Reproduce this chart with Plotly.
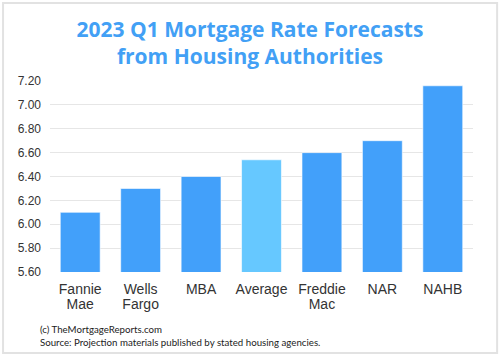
import plotly.graph_objects as go

categories = ["Fannie", "Wells", "MBA", "Average", "Freddie", "NAR", "NAHB"]
categories_line2 = ["Mae", "Fargo", "", "", "Mac", "", ""]
rates = [6.10, 6.30, 6.40, 6.54, 6.60, 6.70, 7.16]
bar_colors = ["#42A0FA", "#42A0FA", "#42A0FA", "#66C8FF", "#42A0FA", "#42A0FA", "#42A0FA"]
y_ticks = [5.6, 5.8, 6.0, 6.2, 6.4, 6.6, 6.8, 7.0, 7.2]

fig = go.Figure()
fig.add_trace(go.Bar(
    x=categories, y=rates,
    marker=dict(color=bar_colors, line=dict(color="rgba(255,255,255,0.6)", width=1)),
))
fig.add_trace(go.Bar(
    x=categories, y=rates, xaxis="x2", opacity=0, hoverinfo="skip",
))

tickfont = dict(family="Liberation Sans, Arial", size=14, color="#333333")

fig.update_layout(
    width=500, height=356,
    margin=dict(l=50, r=27, t=81, b=84),
    paper_bgcolor="white", plot_bgcolor="white",
    bargap=0.34, barmode="overlay",
    showlegend=False,
    title=dict(
        text="<b>2023 Q1 Mortgage Rate Forecasts<br>from Housing Authorities</b>",
        x=0.5, xanchor="center", y=0.897, yanchor="middle",
        font=dict(family="Open Sans", size=21, color="#42A0F5"),
    ),
    font=dict(family="Liberation Sans, Arial", size=12, color="#333333"),
    xaxis=dict(showgrid=False, showline=False, ticks="", ticklabelstandoff=7,
               tickfont=tickfont),
    xaxis2=dict(overlaying="x", matches="x", anchor="y", side="bottom",
                tickmode="array", tickvals=categories, ticktext=categories_line2,
                showgrid=False, showline=False, ticks="", ticklabelstandoff=22,
                tickfont=tickfont),
    yaxis=dict(range=[5.6, 7.2], tickvals=y_ticks, tickformat=".2f",
               showgrid=True, gridcolor="#E6E6E6", gridwidth=1, zeroline=False,
               ticklabelstandoff=8, tickfont=dict(size=12, color="#333333")),
    shapes=[dict(type="rect", xref="paper", yref="paper",
                 x0=-0.111, x1=1.057, y0=-0.424, y1=1.408,
                 line=dict(color="#E2E2E2", width=2))],
    annotations=[
        dict(text="(c) TheMortgageReports.com<br>Source: Projection materials published by stated housing agencies.",
             xref="paper", yref="paper", x=-0.029, y=-0.257, xanchor="left", yanchor="top",
             align="left", showarrow=False,
             font=dict(family="Lato", size=9.7, color="#222222")),
    ],
)

fig.write_html("out.html", config={"displayModeBar": False},
               post_script="document.body.style.margin='0';document.body.style.padding='0';")
